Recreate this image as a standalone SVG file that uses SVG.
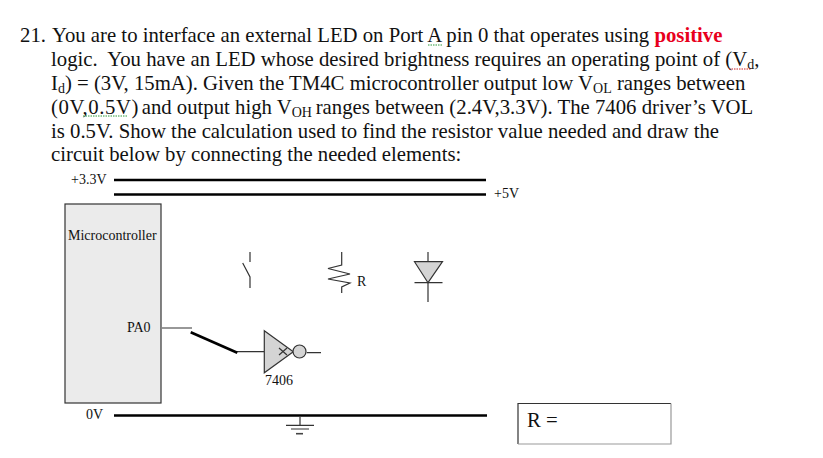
<svg xmlns="http://www.w3.org/2000/svg" width="823" height="458" viewBox="0 0 823 458">
<style>
text{font-family:"Liberation Serif","Times New Roman",serif;fill:#111}
.q{font-size:20.75px}
.s{font-size:14px}
.sub{font-size:14px}
.l{stroke:#333;stroke-width:1.2;fill:none}
.rail{stroke:#000;stroke-width:2.5;fill:none}
.sq{fill:none;stroke-width:1}
</style>
<rect width="823" height="458" fill="#fff"/>
<g id="question">
<text class="q" x="20" y="42">21.</text>
<text class="q" x="52" y="42">You are to interface an external LED on Port A pin 0 that operates using <tspan fill="#e8001c" font-weight="bold">positive</tspan></text>
<text class="q" x="51" y="66" xml:space="preserve">logic.  You have an LED whose desired brightness requires an operating point of (V<tspan class="sub" dy="3">d</tspan><tspan dy="-3">,</tspan></text>
<text class="q" x="51" y="89.500">I<tspan class="sub" dy="3">d</tspan><tspan dy="-3">) = (3V, 15mA). Given the TM4C microcontroller output low V</tspan><tspan class="sub" dy="3">OL</tspan><tspan dy="-3"> ranges between</tspan></text>
<text class="q" x="51" y="113.500"><tspan letter-spacing="0.6">(0V,0.5V)</tspan><tspan x="141.700">and output high V</tspan><tspan class="sub" dy="3">OH</tspan><tspan x="315.700" dy="-3">ranges between (2.4V,3.3V). The 7406 driver’s VOL</tspan></text>
<text class="q" x="51" y="137.500">is 0.5V. Show the calculation used to find the resistor value needed and draw the</text>
<text class="q" x="51" y="161">circuit below by connecting the needed elements:</text>
<path class="sq" stroke="#2a9a3a" stroke-dasharray="1.5 1" d="M83 116H128"/>
<path class="sq" stroke="#2a9a3a" stroke-dasharray="1.5 1" d="M428 45H443"/>
<path class="sq" stroke="#d02020" stroke-dasharray="1.5 1" d="M729 69H751"/>
</g>
<g id="connectors">
<path class="rail" d="M114 180H486M114 194.500H486M114 415.500H487"/>
<path class="l" d="M162 328H192M236 351.700H264M306.700 352.700H321"/>
<path d="M190.700 332.300L237.300 352.700" stroke="#000" stroke-width="2.600" fill="none"/>
</g>
<g id="rail-labels">
<text class="s" x="71" y="184">+3.3V</text>
<text class="s" x="494" y="198">+5V</text>
<text class="s" x="86" y="419">0V</text>
</g>
<g id="microcontroller">
<rect x="65" y="204" width="96" height="199" fill="#ebebeb" stroke="#333" stroke-width="1.200"/>
<text class="s" x="68" y="239.500">Microcontroller</text>
<text class="s" x="127" y="331.500">PA0</text>
</g>
<g id="switch">
<path class="l" d="M250 252V262M242.700 263L250 277V288"/>
</g>
<g id="resistor">
<path class="l" d="M341.700 252V265L328 268.500L350 274L328 279L350 283L341.700 287V293"/>
<text class="s" x="357" y="286">R</text>
</g>
<g id="diode">
<path class="l" d="M428 252V261.700"/>
<path d="M414.500 261.700H442.500L428 282.700Z" fill="#d4d4d4" stroke="#333" stroke-width="1.200"/>
<path class="l" d="M414.500 282.700H442.500M428 282.700V302"/>
</g>
<g id="driver">
<path d="M264.300 330.700L293.300 351.700L264.300 372.700Z" fill="#d4d4d4" stroke="#333" stroke-width="1.200"/>
<circle cx="299.500" cy="351.500" r="6.500" fill="#d4d4d4" stroke="#333" stroke-width="1.200"/>
<path class="l" d="M279 348L287 355M279 355L287 348"/>
<text class="s" x="265" y="384.500">7406</text>
</g>
<g id="ground">
<path class="l" d="M300 417V425.300M286 425.300H314M291 429H309"/>
<path d="M296 433.700H303" stroke="#444" stroke-width="1.600" fill="none"/>
</g>
<g id="answer-box">
<rect x="518" y="403.500" width="153" height="40.500" fill="#fff"/>
<path d="M518 444V403.500H671" stroke="#333" stroke-width="1.200" fill="none"/>
<path d="M671 403.500V444H518" stroke="#999" stroke-width="1.200" fill="none"/>
<text x="527" y="427" font-size="20.750">R =</text>
</g>
</svg>
